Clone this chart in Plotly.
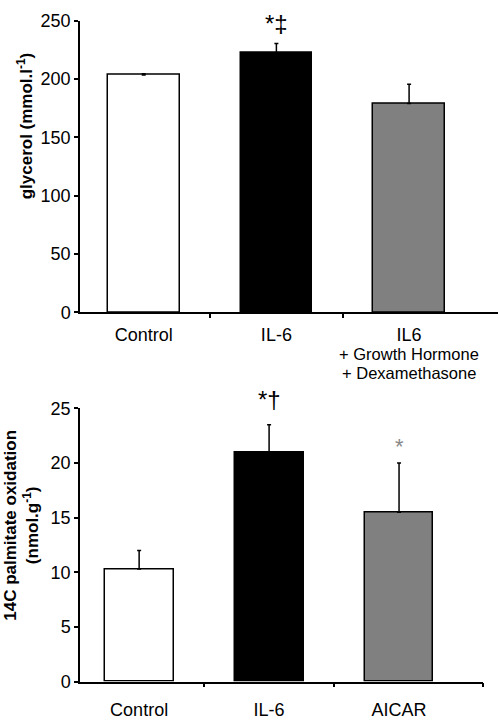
import plotly.graph_objects as go

# ---- data ----
top_categories = ["Control", "IL-6", "IL6"]
top_extra_lines = ["+ Growth Hormone", "+ Dexamethasone"]
top_values = [203.5, 222.5, 179.0]
top_errors = [1.0, 8.0, 16.5]

bot_categories = ["Control", "IL-6", "AICAR"]
bot_values = [10.3, 21.0, 15.5]
bot_errors = [1.7, 2.5, 4.5]

bar_colors = ["#ffffff", "#000000", "#808080"]
top_y_ticks = [0, 50, 100, 150, 200, 250]
bot_y_ticks = [0, 5, 10, 15, 20, 25]

FONT = "Liberation Sans, Arial, Helvetica, sans-serif"
W, H = 500, 720

fig = go.Figure()
xs = [0, 1, 2]

fig.add_trace(go.Bar(
    x=xs, y=top_values, width=0.54,
    marker=dict(color=bar_colors, line=dict(color="black", width=1.5)),
    error_y=dict(type="data", symmetric=False, array=top_errors,
                 arrayminus=[0, 0, 0], color="black", thickness=1.5, width=2),
    xaxis="x", yaxis="y", showlegend=False))

fig.add_trace(go.Bar(
    x=xs, y=bot_values, width=0.53,
    marker=dict(color=bar_colors, line=dict(color="black", width=1.5)),
    error_y=dict(type="data", symmetric=False, array=bot_errors,
                 arrayminus=[0, 0, 0], color="black", thickness=1.5, width=2),
    xaxis="x2", yaxis="y2", showlegend=False))

tickfont = dict(family=FONT, size=18, color="black")

def px_x(p):
    return p / W

def px_y(p):
    return 1 - p / H

fig.update_layout(
    width=W, height=H,
    margin=dict(l=0, r=0, t=0, b=0),
    paper_bgcolor="white", plot_bgcolor="white",
    bargap=0,
    font=dict(family=FONT, color="black"),
    xaxis=dict(domain=[px_x(80), px_x(498)], anchor="y",
               range=[-0.48, 2.67], tickmode="array", tickvals=xs,
               ticktext=top_categories, ticks="", showline=True,
               linecolor="black", linewidth=1.5, showgrid=False,
               zeroline=False, tickfont=tickfont, ticklabelstandoff=5,
               minor=dict(tickvals=[0.5, 1.5], ticks="outside", ticklen=4,
                          tickwidth=1.5, tickcolor="black")),
    yaxis=dict(domain=[px_y(312), px_y(11)], anchor="x",
               range=[0, 250], tickmode="array", tickvals=top_y_ticks,
               ticks="outside", ticklen=4, tickwidth=1.5, tickcolor="black",
               showline=True, linecolor="black", linewidth=1.5,
               showgrid=False, zeroline=False, tickfont=tickfont),
    xaxis2=dict(domain=[px_x(80), px_x(483)], anchor="y2",
                range=[-0.455, 2.646], tickmode="array", tickvals=xs,
                ticktext=bot_categories, ticks="", showline=True,
                linecolor="black", linewidth=1.5, showgrid=False,
                zeroline=False, tickfont=tickfont, ticklabelstandoff=11,
                minor=dict(tickvals=[0.5, 1.5, 2.646], ticks="outside", ticklen=4,
                           tickwidth=1.5, tickcolor="black")),
    yaxis2=dict(domain=[px_y(692.7), px_y(411)], anchor="x2",
                range=[0, 25], tickmode="array", tickvals=bot_y_ticks,
                ticks="outside", ticklen=4, tickwidth=1.5, tickcolor="black",
                showline=True, linecolor="black", linewidth=1.5,
                showgrid=False, zeroline=False, tickfont=tickfont),
)

annotations = [
    # y-axis titles
    dict(text="<b>glycerol (mmol.l<sup>-1</sup>)</b>", xref="paper", yref="paper",
         x=px_x(25), y=px_y(120), textangle=-90, showarrow=False,
         font=dict(family=FONT, size=17, color="black"),
         xanchor="center", yanchor="middle"),
    dict(text="<b>14C palmitate oxidation<br>(nmol.g<sup>-1</sup>)</b>",
         xref="paper", yref="paper", x=px_x(22), y=px_y(532), textangle=-90,
         showarrow=False, font=dict(family=FONT, size=17, color="black"),
         xanchor="center", yanchor="middle"),
    # significance markers
    dict(text="*‡", xref="x", yref="paper", x=1, y=px_y(14), showarrow=False,
         font=dict(family=FONT, size=24, color="black"),
         xanchor="center", yanchor="middle"),
    dict(text="*†", xref="x2", yref="paper", x=1, y=px_y(402), showarrow=False,
         font=dict(family=FONT, size=24, color="black"),
         xanchor="center", yanchor="middle"),
    dict(text="*", xref="x2", yref="paper", x=2, y=px_y(450), showarrow=False,
         font=dict(family=FONT, size=22, color="#888888"),
         xanchor="center", yanchor="middle"),
]
for i, line in enumerate(top_extra_lines):
    annotations.append(dict(text=line, xref="x", yref="paper", x=2,
                            y=px_y(355 + 19.5 * i), showarrow=False,
                            font=dict(family=FONT, size=16.5, color="black"),
                            borderpad=0,
                            xanchor="center", yanchor="middle"))

fig.update_layout(annotations=annotations)

fig.write_html("out.html")
